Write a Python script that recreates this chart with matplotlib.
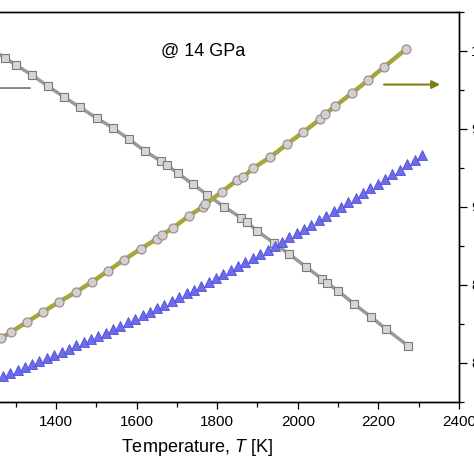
import matplotlib
matplotlib.use("Agg")
import matplotlib.pyplot as plt
from matplotlib.ticker import MultipleLocator

plt.rcParams['font.family'] = ['Liberation Sans', 'DejaVu Sans']
plt.rcParams['mathtext.fontset'] = 'custom'
plt.rcParams['mathtext.it'] = 'Liberation Sans:italic'

# gray squares (left axis, arrow points left)
t_sq = [1234, 1274, 1301, 1341, 1380, 1420, 1459, 1501, 1541, 1581, 1620, 1660, 1675,
        1702, 1739, 1776, 1818, 1860, 1873, 1900, 1940, 1979, 2021, 2061, 2073, 2100,
        2140, 2182, 2219, 2274]
y_sq = [9.08, 8.82, 8.64, 8.38, 8.10, 7.82, 7.56, 7.28, 7.03, 6.74, 6.44, 6.18, 6.08,
        5.87, 5.59, 5.31, 5.00, 4.72, 4.62, 4.38, 4.08, 3.79, 3.46, 3.15, 3.05, 2.85,
        2.51, 2.18, 1.87, 1.44]

# olive line with circles (right axis)
t_ci = [1264, 1289, 1328, 1368, 1407, 1450, 1489, 1529, 1568, 1610, 1650, 1662, 1690,
        1729, 1764, 1771, 1811, 1850, 1865, 1890, 1932, 1974, 2014, 2056, 2068, 2093,
        2135, 2175, 2214, 2269]
y_ci = [816.0, 819.9, 826.3, 832.7, 839.1, 845.5, 851.9, 859.0, 866.0, 873.1, 879.5,
        882.0, 886.5, 894.2, 900.0, 901.9, 909.6, 917.3, 919.2, 925.0, 932.0, 940.4,
        948.1, 956.4, 959.6, 964.7, 973.1, 981.4, 989.7, 1001.3]

# blue triangles (left axis)
t_tr = [1268, 1286, 1305, 1323, 1341, 1359, 1378, 1396, 1414, 1432, 1451, 1469, 1487,
        1505, 1523, 1542, 1560, 1578, 1596, 1615, 1633, 1651, 1669, 1688, 1706, 1724,
        1742, 1761, 1779, 1797, 1815, 1834, 1852, 1870, 1888, 1907, 1925, 1943, 1961,
        1979, 1998, 2016, 2034, 2052, 2071, 2089, 2107, 2125, 2144, 2162, 2180, 2198,
        2217, 2235, 2253, 2271, 2290, 2308]
y_tr = [0.67, 0.74, 0.82, 0.89, 0.97, 1.05, 1.12, 1.20, 1.28, 1.36, 1.45, 1.53, 1.61,
        1.70, 1.78, 1.87, 1.96, 2.05, 2.14, 2.23, 2.32, 2.41, 2.50, 2.60, 2.69, 2.79,
        2.88, 2.98, 3.08, 3.18, 3.28, 3.38, 3.48, 3.59, 3.69, 3.79, 3.90, 4.01, 4.11,
        4.22, 4.33, 4.44, 4.55, 4.67, 4.78, 4.89, 5.01, 5.13, 5.24, 5.36, 5.48, 5.60,
        5.72, 5.84, 5.96, 6.09, 6.21, 6.34]

right_ticks = [800, 850, 900, 950, 1000]

fig = plt.figure(figsize=(4.74, 4.74), dpi=100)
L, R, B, T = -65 / 474, 459 / 474, 1 - 402 / 474, 1 - 12 / 474
ax = fig.add_axes([L, B, R - L, T - B])
ax2 = ax.twinx()

ax.plot(t_sq, y_sq, color='#9a9a9a', lw=2.5, marker='s', ms=5.8,
        mfc='#d6d6d6', mec='#7a7a7a', mew=0.8, zorder=2)
ax.plot(t_tr, y_tr, ls='none', marker='^', ms=7,
        mfc='#6b6bec', mec='#5050d8', mew=0.6, zorder=4)
ax2.plot(t_ci, y_ci, color='#a6a63c', lw=3.2, marker='o', ms=6.5,
         mfc='#dacdcd', mec='#8c8c8c', mew=0.8)

ax.set_xlim(1100, 2400)
ax.set_ylim(0, 10)
ax2.set_ylim(775, 1025)

ax.xaxis.set_major_locator(MultipleLocator(200))
ax.xaxis.set_minor_locator(MultipleLocator(100))
ax.tick_params(axis='x', which='major', direction='out', length=5, width=0.9, labelsize=11, pad=4)
ax.tick_params(axis='x', which='minor', direction='out', length=3.5, width=0.9)
ax.tick_params(axis='x', top=False, which='both')
ax.tick_params(axis='y', left=False, labelleft=False, which='both')

ax2.set_yticks(right_ticks)
ax2.yaxis.set_minor_locator(MultipleLocator(25))
ax2.tick_params(axis='y', which='major', direction='out', length=5.5, width=0.9, labelsize=11, pad=3.4)
ax2.tick_params(axis='y', which='minor', direction='out', length=3.5, width=0.9)

for a in (ax, ax2):
    for s in a.spines.values():
        s.set_linewidth(1.0)

ax.set_xlabel('Temperature, $T$ [K]', fontsize=13, labelpad=6)

ax.text(1764, 9.0, '@ 14 GPa', fontsize=13, ha='center', va='center')

# axis arrows
ax.annotate('', xy=(1150, 8.05), xytext=(1343, 8.05),
            arrowprops=dict(arrowstyle='-|>', color='#7f7f7f', lw=1.3, mutation_scale=12))
ax2.annotate('', xy=(2360, 978.5), xytext=(2207, 978.5),
             arrowprops=dict(arrowstyle='-|>', color='#808010', lw=1.5, mutation_scale=12))

fig.savefig('out.png', dpi=100)
